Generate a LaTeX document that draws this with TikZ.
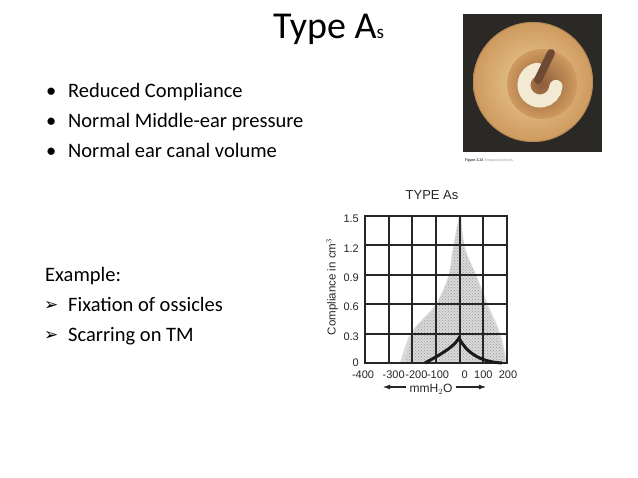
\documentclass[tikz,border=0pt]{standalone}
\usepackage{fontspec}
\setmainfont{Carlito}
\newfontfamily\plotfont{Liberation Sans}
\newfontfamily\symfont{DejaVu Sans}
\usetikzlibrary{arrows.meta, patterns}

\definecolor{skinlight}{HTML}{EDCD9C}
\definecolor{skinmid}{HTML}{CE9A5E}
\definecolor{skindark}{HTML}{8E5C3A}
\definecolor{plaque}{HTML}{F2EAD3}
\definecolor{malleus}{HTML}{6E4934}
\definecolor{photobg}{HTML}{2B2926}

\begin{document}
\begin{tikzpicture}[x=1pt, y=-1pt,
  slidetext/.style={anchor=base west, inner sep=0pt, font=\fontsize{20.5}{24}\selectfont},
  ticklabel/.style={inner sep=0pt, font=\plotfont\fontsize{11}{12}\selectfont, text=black!85},
  gridline/.style={line width=1.9pt, black!85},
  pointer/.style={line width=1.6pt, black!85, -{Latex[length=8pt, width=5pt]}}]
\fill[white] (0,0) rectangle (638,478);
\useasboundingbox (0,0) rectangle (638,478);

% title and text
\node[anchor=base west, inner sep=0pt, font=\fontsize{38}{40}\selectfont] (title) at (273,39) {Type A{\fontsize{19}{20}\selectfont s}};
\node[slidetext] (dotA) at (46,98) {•};
\node[slidetext] (itemA) at (68,98) {Reduced Compliance};
\node[slidetext] (dotB) at (46,128) {•};
\node[slidetext] (itemB) at (68,128) {Normal Middle-ear pressure};
\node[slidetext] (dotC) at (46,158) {•};
\node[slidetext] (itemC) at (68,158) {Normal ear canal volume};
\node[slidetext] (example) at (45,282) {Example:};
\node[slidetext, font=\symfont\fontsize{17}{18}\selectfont] (arrA) at (44,311) {➢};
\node[slidetext] (causeA) at (68,312) {Fixation of ossicles};
\node[slidetext, font=\symfont\fontsize{17}{18}\selectfont] (arrB) at (44,341) {➢};
\node[slidetext] (causeB) at (68,342) {Scarring on TM};

% photo
\fill[photobg] (463,14) rectangle (602,152);
\shade[inner color=skinlight, outer color=skinmid] (533,82) circle (60);
\draw[skinmid!80!black, line width=1pt, opacity=0.5] (533,82) circle (59.5);
\shade[inner color=skindark, outer color=skinmid] (542,84) circle (35);
\draw[plaque, line width=13pt, line cap=round] (540,85) ++(-100:16) arc[start angle=-100, end angle=-355, radius=16];
\draw[malleus, line width=8pt, line cap=round] (551,53) -- (538,80);
\node[anchor=base west, inner sep=0pt, font=\fontsize{4}{5}\selectfont, text=black!75] (figcap) at (465,162) {\textbf{Figure 3.24} \textcolor{black!40}{Tympanosclerosis}};

% tympanogram
\begin{scope}[shift={(459.7pt,-363pt)}, x=0.2367pt, y=98pt]
\fill[gray!30] plot[smooth, tension=0.5] coordinates {(-252,0) (-206,0.31) (-104,0.59) (-49,0.88) (-28,1.18) (-3,1.5)}
  -- plot[smooth, tension=0.5] coordinates {(6,1.5) (22,1.18) (73,0.88) (120,0.59) (170,0.31) (200,0)} -- cycle;
\fill[pattern=crosshatch dots, pattern color=gray!80] plot[smooth, tension=0.5] coordinates {(-230,0) (-195,0.31) (-98,0.59) (-45,0.88) (-25,1.18) (-3,1.5)}
  -- plot[smooth, tension=0.5] coordinates {(6,1.5) (20,1.18) (68,0.88) (112,0.59) (160,0.31) (195,0)} -- cycle;
\foreach \p in {-300,-200,...,100}
  \draw[gridline] (\p,0) -- (\p,1.5);
\foreach \c in {0.3,0.6,0.9,1.2}
  \draw[gridline] (-400,\c) -- (200,\c);
\draw[gridline, line width=2.4pt] (-400,0) rectangle (200,1.5);
\draw[line width=3pt, black!90] (-147,0) .. controls (-62,0.11) and (-20,0.18) .. (-3,0.255)
  .. controls (27,0.11) and (86,0.01) .. (179,0);

\foreach \c/\dy [count=\i] in {0/0,0.3/-3,0.6/-3,0.9/-3,1.2/-3,1.5/-3}
  \node[ticklabel, anchor=east] (ytick\i) at (-400,\c) [xshift=-6pt, yshift=\dy pt] {\c};
\foreach \p/\dx [count=\i] in {-400/-2,-300/5,-200/4,-100/2,0/5,100/0,200/1}
  \node[ticklabel] (xtick\i) at (\p,0) [xshift=\dx pt, yshift=-12pt] {\p};

\node[ticklabel, rotate=90, font=\plotfont\fontsize{11.5}{12}\selectfont] (ylab) at (-539,0.776) {Compliance in cm$^3$};
\node[ticklabel, font=\plotfont\fontsize{13}{14}\selectfont] (type) at (-117,1.714) {TYPE As};
\node[ticklabel, inner sep=3pt, font=\plotfont\fontsize{12}{13}\selectfont] (unit) at (-121,-0.265) {mmH$_2$O};
\coordinate (arrL) at (-328,-0.245);
\coordinate (arrR) at (115,-0.245);
\draw[pointer] (unit.west |- arrL) -- (arrL);
\draw[pointer] (unit.east |- arrR) -- (arrR);
\end{scope}
\end{tikzpicture}
\end{document}
